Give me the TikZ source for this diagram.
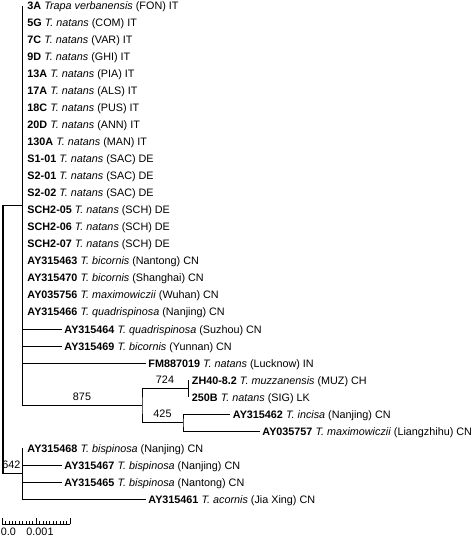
\documentclass[tikz,border=0pt]{standalone}
\usepackage{fontspec}
\setmainfont{Liberation Sans}
\newcommand\lf[3]{\textbf{#1} \textit{#2} #3}
\begin{document}
\begin{tikzpicture}[x=1pt,y=-1pt,line width=0.9pt,
  leaf/.style={anchor=west,inner xsep=2.5pt,inner ysep=0pt,text height=7.7pt,text depth=0pt,font=\fontsize{10.8}{12}\selectfont},
  boot/.style={anchor=south,inner sep=0pt,text height=7.7pt,text depth=0pt,font=\fontsize{10.8}{12}\selectfont},
  scl/.style={anchor=north,inner sep=0pt,text height=7.7pt,text depth=0pt,font=\fontsize{10.8}{12}\selectfont}]
\useasboundingbox (0,0) rectangle (474,544);
% zero-length leaves
\foreach \i/\lab in {
 0/{\lf{3A}{Trapa verbanensis}{(FON) IT}},
 1/{\lf{5G}{T. natans}{(COM) IT}},
 2/{\lf{7C}{T. natans}{(VAR) IT}},
 3/{\lf{9D}{T. natans}{(GHI) IT}},
 4/{\lf{13A}{T. natans}{(PIA) IT}},
 5/{\lf{17A}{T. natans}{(ALS) IT}},
 6/{\lf{18C}{T. natans}{(PUS) IT}},
 7/{\lf{20D}{T. natans}{(ANN) IT}},
 8/{\lf{130A}{T. natans}{(MAN) IT}},
 9/{\lf{S1-01}{T. natans}{(SAC) DE}},
 10/{\lf{S2-01}{T. natans}{(SAC) DE}},
 11/{\lf{S2-02}{T. natans}{(SAC) DE}},
 12/{\lf{SCH2-05}{T. natans}{(SCH) DE}},
 13/{\lf{SCH2-06}{T. natans}{(SCH) DE}},
 14/{\lf{SCH2-07}{T. natans}{(SCH) DE}},
 15/{\lf{AY315463}{T. bicornis}{(Nantong) CN}},
 16/{\lf{AY315470}{T. bicornis}{(Shanghai) CN}},
 17/{\lf{AY035756}{T. maximowiczii}{(Wuhan) CN}},
 18/{\lf{AY315466}{T. quadrispinosa}{(Nanjing) CN}},
 26/{\lf{AY315468}{T. bispinosa}{(Nanjing) CN}}}
 {\node[leaf] (L\i) at (24.5,{5.6+17.03*\i}) {\lab};}
% leaves with branches
\node[leaf] (L19) at (61.5,329.17) {\lf{AY315464}{T. quadrispinosa}{(Suzhou) CN}};
\node[leaf] (L20) at (61.5,346.2) {\lf{AY315469}{T. bicornis}{(Yunnan) CN}};
\node[leaf] (L21) at (145.5,363.23) {\lf{FM887019}{T. natans}{(Lucknow) IN}};
\node[leaf] (L22) at (189,380.26) {\lf{ZH40-8.2}{T. muzzanensis}{(MUZ) CH}};
\node[leaf] (L23) at (189,397.29) {\lf{250B}{T. natans}{(SIG) LK}};
\node[leaf] (L24) at (230,414.32) {\lf{AY315462}{T. incisa}{(Nanjing) CN}};
\node[leaf] (L25) at (259.5,431.35) {\lf{AY035757}{T. maximowiczii}{(Liangzhihu) CN}};
\node[leaf] (L27) at (61.5,465.41) {\lf{AY315467}{T. bispinosa}{(Nanjing) CN}};
\node[leaf] (L28) at (61.5,482.44) {\lf{AY315465}{T. bispinosa}{(Nantong) CN}};
\node[leaf] (L29) at (145.5,499.47) {\lf{AY315461}{T. acornis}{(Jia Xing) CN}};
% internal nodes
\coordinate (root) at (3,339.8);
\coordinate (cA) at (22,205.7);
\coordinate (cB) at (22,473.9);
\coordinate (n875) at (142,405.81);
\coordinate (n724) at (188,388.78);
\coordinate (n425) at (183,422.84);
% branches
\draw[line width=1.1pt] (cA) -| (root) |- (cB);
\draw (L0.west -| cA) |- (n875);
\draw (n724) -| (n875) |- (n425);
\draw (L22.west -| n724) -- (L23.west -| n724);
\draw (L24.west) -| (n425) |- (L25.west);
\foreach \k in {19,20,21} \draw (L\k.west -| cA) -- (L\k.west);
\draw (L26.west -| cB) -- (L29.west -| cB);
\foreach \k in {27,28,29} \draw (L\k.west -| cB) -- (L\k.west);
% bootstrap values
\node[boot] (b875) at (82,401.3) {875};
\node[boot] (b724) at (165,384.3) {724};
\node[boot] (b425) at (162.5,418.3) {425};
\node[boot] (b642) at (11.5,469.4) {642};
% scale bar
\coordinate (s0) at (2,524);
\coordinate (s1) at (70,524);
\draw[line width=0.7pt] (s0) -- (s1);
\foreach \t in {0,...,20} \draw[line width=0.6pt] ({2+3.4*\t},524.3) -- ({2+3.4*\t},520.5);
\foreach \t in {0,10,20} \draw[line width=0.7pt] ({2+3.4*\t},524.3) -- ({2+3.4*\t},518);
\node[scl] (z0) at (8.3,527.5) {0.0};
\node[scl] (z1) at (40,527.5) {0.001};
\end{tikzpicture}
\end{document}
